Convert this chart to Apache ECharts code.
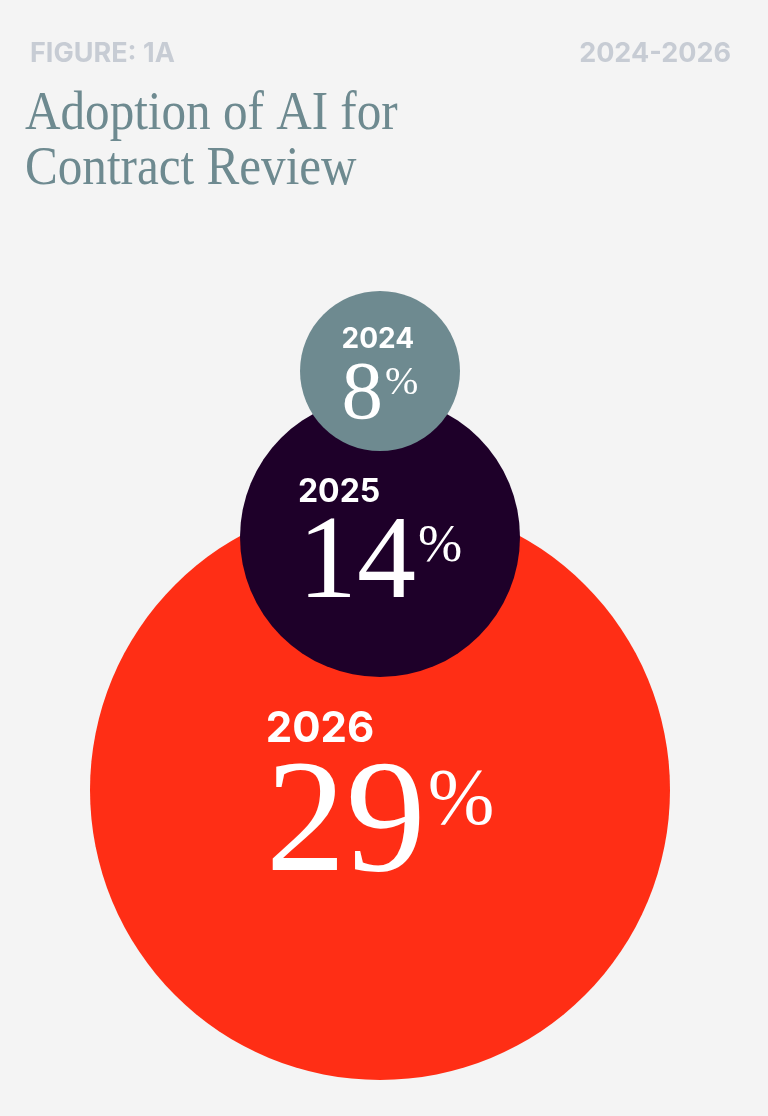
<!DOCTYPE html>
<html>
<head>
<meta charset="utf-8">
<title>Adoption of AI for Contract Review</title>
<script src="https://cdn.jsdelivr.net/npm/echarts@6/dist/echarts.min.js"></script>
<style>
  html, body { margin: 0; padding: 0; background: #f4f4f4; }
  #app { width: 768px; height: 1116px; }
</style>
</head>
<body>
<div id="app"></div>
<script>
// data
const years = ['2024', '2025', '2026'];
const adoption = [8, 14, 29]; // % of respondents

const colors = ['#6e8a90', '#1e0029', '#ff2e15'];
// label font sizes per circle: [year, number, percent]
const labelSizes = [[28, 83, 40], [32, 118, 53], [42, 160, 80]];

// layout (pixels): circles stacked on one vertical line, each overlapping the next
const pxPerPoint = 10;         // radius in px per percentage point
const firstTop = 291;
const overlaps = [54, 177];
const centerX = 380;

const radius = v => v * pxPerPoint;
const centers = [];
adoption.forEach((v, i) => {
  if (i === 0) centers.push(firstTop + radius(v));
  else centers.push(centers[i - 1] + radius(adoption[i - 1]) + radius(v) - overlaps[i - 1]);
});

const chart = echarts.init(document.getElementById('app'));

// bigger circles first so the smaller ones sit on top
const order = years.map((_, i) => i).reverse();

const headStyle = { fontFamily: 'Inter', fontWeight: 700, fontSize: 27, color: '#c7ccd4' };
const titleFont = '54px "Liberation Serif"';

const option = {
  backgroundColor: '#f4f4f4',
  animation: false,
  title: [
    { text: 'FIGURE: 1A', left: 25, top: 35, textStyle: headStyle },
    { text: '2024-2026', right: 32, top: 35, textStyle: headStyle }
  ],
  graphic: [
    {
      type: 'text', x: 25, y: 115, scaleX: 0.91,
      style: { text: 'Adoption of AI for', font: titleFont, fill: '#6e8a90', verticalAlign: 'middle' }
    },
    {
      type: 'text', x: 25, y: 170, scaleX: 0.91,
      style: { text: 'Contract Review', font: titleFont, fill: '#6e8a90', verticalAlign: 'middle' }
    }
  ],
  grid: { left: 0, right: 0, top: 0, bottom: 0 },
  xAxis: { type: 'value', min: 0, max: 768, show: false },
  yAxis: { type: 'value', min: 0, max: 1116, inverse: true, show: false },
  series: [{
    type: 'scatter',
    symbol: 'circle',
    silent: true,
    data: order.map(i => {
      const s = labelSizes[i];
      return {
        value: [centerX, centers[i]],
        symbolSize: radius(adoption[i]) * 2,
        itemStyle: { color: colors[i], opacity: 1 },
        label: {
          show: true,
          position: 'inside',
          align: 'center',
          verticalAlign: 'middle',
          formatter: `{y|${years[i]}}\n{v|${adoption[i]}}{p|%}`,
          rich: {
            y: { fontFamily: 'Inter', fontWeight: 700, fontSize: s[0], lineHeight: s[0] * 1.83, color: '#fff', align: 'left' },
            v: { fontFamily: 'Liberation Serif', fontSize: s[1], lineHeight: s[1] * 0.76, color: '#fff', align: 'left' },
            // superscript percent sign: lifted with bottom padding
            p: {
              fontFamily: 'Liberation Serif', fontSize: s[2], lineHeight: s[2] * 0.7, color: '#fff',
              align: 'left', verticalAlign: 'middle', padding: [0, 0, s[1] * 0.32, 2]
            }
          }
        }
      };
    })
  }]
};

chart.setOption(option);
</script>
</body>
</html>
